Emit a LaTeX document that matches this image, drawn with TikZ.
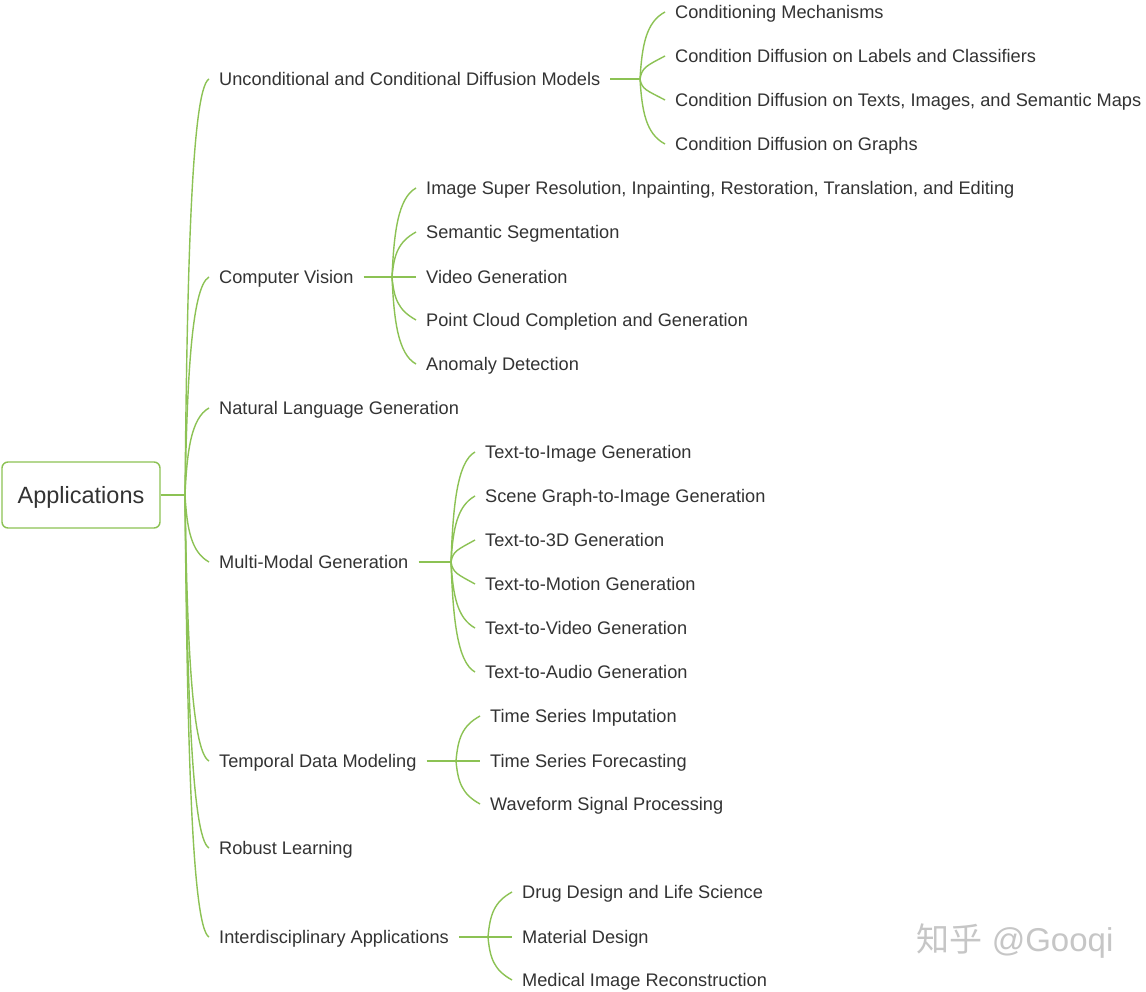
\documentclass[tikz,border=0pt]{standalone}
\usepackage{fontspec}
\usetikzlibrary{calc}
\setmainfont{Liberation Sans}
\newfontfamily\cjkfont{Noto Sans CJK SC}
\definecolor{lc}{RGB}{140,194,84}
\definecolor{tc}{RGB}{51,51,51}
\newcommand\branchto[2]{\draw[conn] (#1) .. controls ($(#1)!0.5!(#1 |- #2.west) + (2,0)$) and ($(#1 |- #2.west)!10pt!(#1) + (6,0)$) .. (#2.west);}
\newcommand\straightto[2]{\draw[conn] (#1) -- (#2.west);}
\begin{document}
\begin{tikzpicture}[x=1pt,y=-1pt,
  conn/.style={draw=lc,line width=1.4pt},
  item/.style={anchor=west,inner xsep=10pt,inner ysep=0pt,text=tc,font=\fontsize{18.2}{21}\selectfont,text height=15pt,text depth=2pt},
  rootbox/.style={draw=lc,line width=1.4pt,rounded corners=6pt,fill=white,minimum width=158pt,minimum height=66pt,text=tc,font=\fontsize{23.5}{28}\selectfont,text height=19pt,text depth=3pt}]
\useasboundingbox[fill=white] (0,0) rectangle (1146,992);

% root
\node[rootbox] (r) at (81,495) {Applications};
\coordinate (bR) at (185,495);
\draw[conn] (r.east) -- (bR);

% level 1
\node[item] (u)  at (209,79)  {Unconditional and Conditional Diffusion Models};
\node[item] (cv) at (209,277) {Computer Vision};
\node[item] (nl) at (209,408) {Natural Language Generation};
\node[item] (mm) at (209,562) {Multi-Modal Generation};
\node[item] (td) at (209,761) {Temporal Data Modeling};
\node[item] (rl) at (209,848) {Robust Learning};
\node[item] (ia) at (209,937) {Interdisciplinary Applications};
\foreach \n in {u,cv,nl,mm,td,rl,ia} {\branchto{bR}{\n}}

% Unconditional and Conditional
\coordinate (bu) at (640,79);
\draw[conn] (u.east) -- (bu);
\node[item] (u1) at (665,12)  {Conditioning Mechanisms};
\node[item] (u2) at (665,56)  {Condition Diffusion on Labels and Classifiers};
\node[item] (u3) at (665,100) {Condition Diffusion on Texts, Images, and Semantic Maps};
\node[item] (u4) at (665,144) {Condition Diffusion on Graphs};
\foreach \n in {u1,u2,u3,u4} {\branchto{bu}{\n}}

% Computer Vision
\coordinate (bcv) at (392,277);
\draw[conn] (cv.east) -- (bcv);
\node[item] (cv1) at (416,188) {Image Super Resolution, Inpainting, Restoration, Translation, and Editing};
\node[item] (cv2) at (416,232) {Semantic Segmentation};
\node[item] (cv3) at (416,277) {Video Generation};
\node[item] (cv4) at (416,320) {Point Cloud Completion and Generation};
\node[item] (cv5) at (416,364) {Anomaly Detection};
\foreach \n in {cv1,cv2,cv4,cv5} {\branchto{bcv}{\n}}
\straightto{bcv}{cv3}

% Multi-Modal
\coordinate (bmm) at (451,562);
\draw[conn] (mm.east) -- (bmm);
\node[item] (mm1) at (475,452) {Text-to-Image Generation};
\node[item] (mm2) at (475,496) {Scene Graph-to-Image Generation};
\node[item] (mm3) at (475,540) {Text-to-3D Generation};
\node[item] (mm4) at (475,584) {Text-to-Motion Generation};
\node[item] (mm5) at (475,628) {Text-to-Video Generation};
\node[item] (mm6) at (475,672) {Text-to-Audio Generation};
\foreach \n in {mm1,mm2,mm3,mm4,mm5,mm6} {\branchto{bmm}{\n}}

% Temporal
\coordinate (btd) at (456,761);
\draw[conn] (td.east) -- (btd);
\node[item] (td1) at (480,716) {Time Series Imputation};
\node[item] (td2) at (480,761) {Time Series Forecasting};
\node[item] (td3) at (480,804) {Waveform Signal Processing};
\foreach \n in {td1,td3} {\branchto{btd}{\n}}
\straightto{btd}{td2}

% Interdisciplinary
\coordinate (bia) at (488,937);
\draw[conn] (ia.east) -- (bia);
\node[item] (ia1) at (512,892) {Drug Design and Life Science};
\node[item] (ia2) at (512,937) {Material Design};
\node[item] (ia3) at (512,980) {Medical Image Reconstruction};
\foreach \n in {ia1,ia3} {\branchto{bia}{\n}}
\straightto{bia}{ia2}

% watermark
\node[text=gray!45,font=\fontsize{33}{38}\selectfont,inner sep=0pt] (wm) at (1015,941) {{\cjkfont 知乎} @Gooqi};
\end{tikzpicture}
\end{document}
